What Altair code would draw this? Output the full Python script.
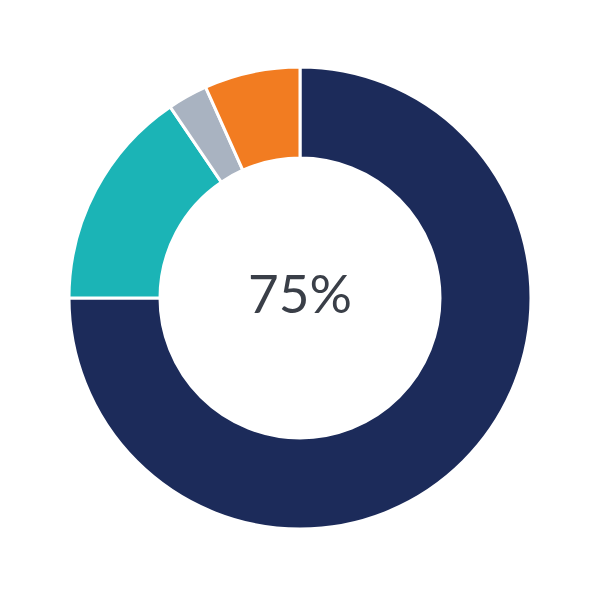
import altair as alt
import pandas as pd

categories = ["A", "B", "C", "D"]
values = [75, 15.5, 2.8, 6.7]
colors = ["#1c2b5a", "#1bb4b6", "#a9b3c1", "#f27c21"]
center_label = "75%"

df = pd.DataFrame({"cat": categories, "value": values, "order": list(range(len(values)))})

arcs = alt.Chart(df).mark_arc(innerRadius=140, outerRadius=231, stroke="white", strokeWidth=3).encode(
    theta=alt.Theta("value:Q", stack=True),
    color=alt.Color("cat:N", scale=alt.Scale(domain=categories, range=colors), legend=None),
    order=alt.Order("order:Q"),
)

txt = alt.Chart(pd.DataFrame({"t": [center_label]})).mark_text(
    font="Lato", fontSize=53, color="#3a3f48", baseline="middle", align="center", dy=-1
).encode(text="t:N")

chart = (arcs + txt).properties(
    width=584, height=580, padding=0, autosize=alt.AutoSizeParams(type="none")
).configure_view(stroke=None)

chart.save("out.html", embed_options={"renderer": "svg", "actions": False})
